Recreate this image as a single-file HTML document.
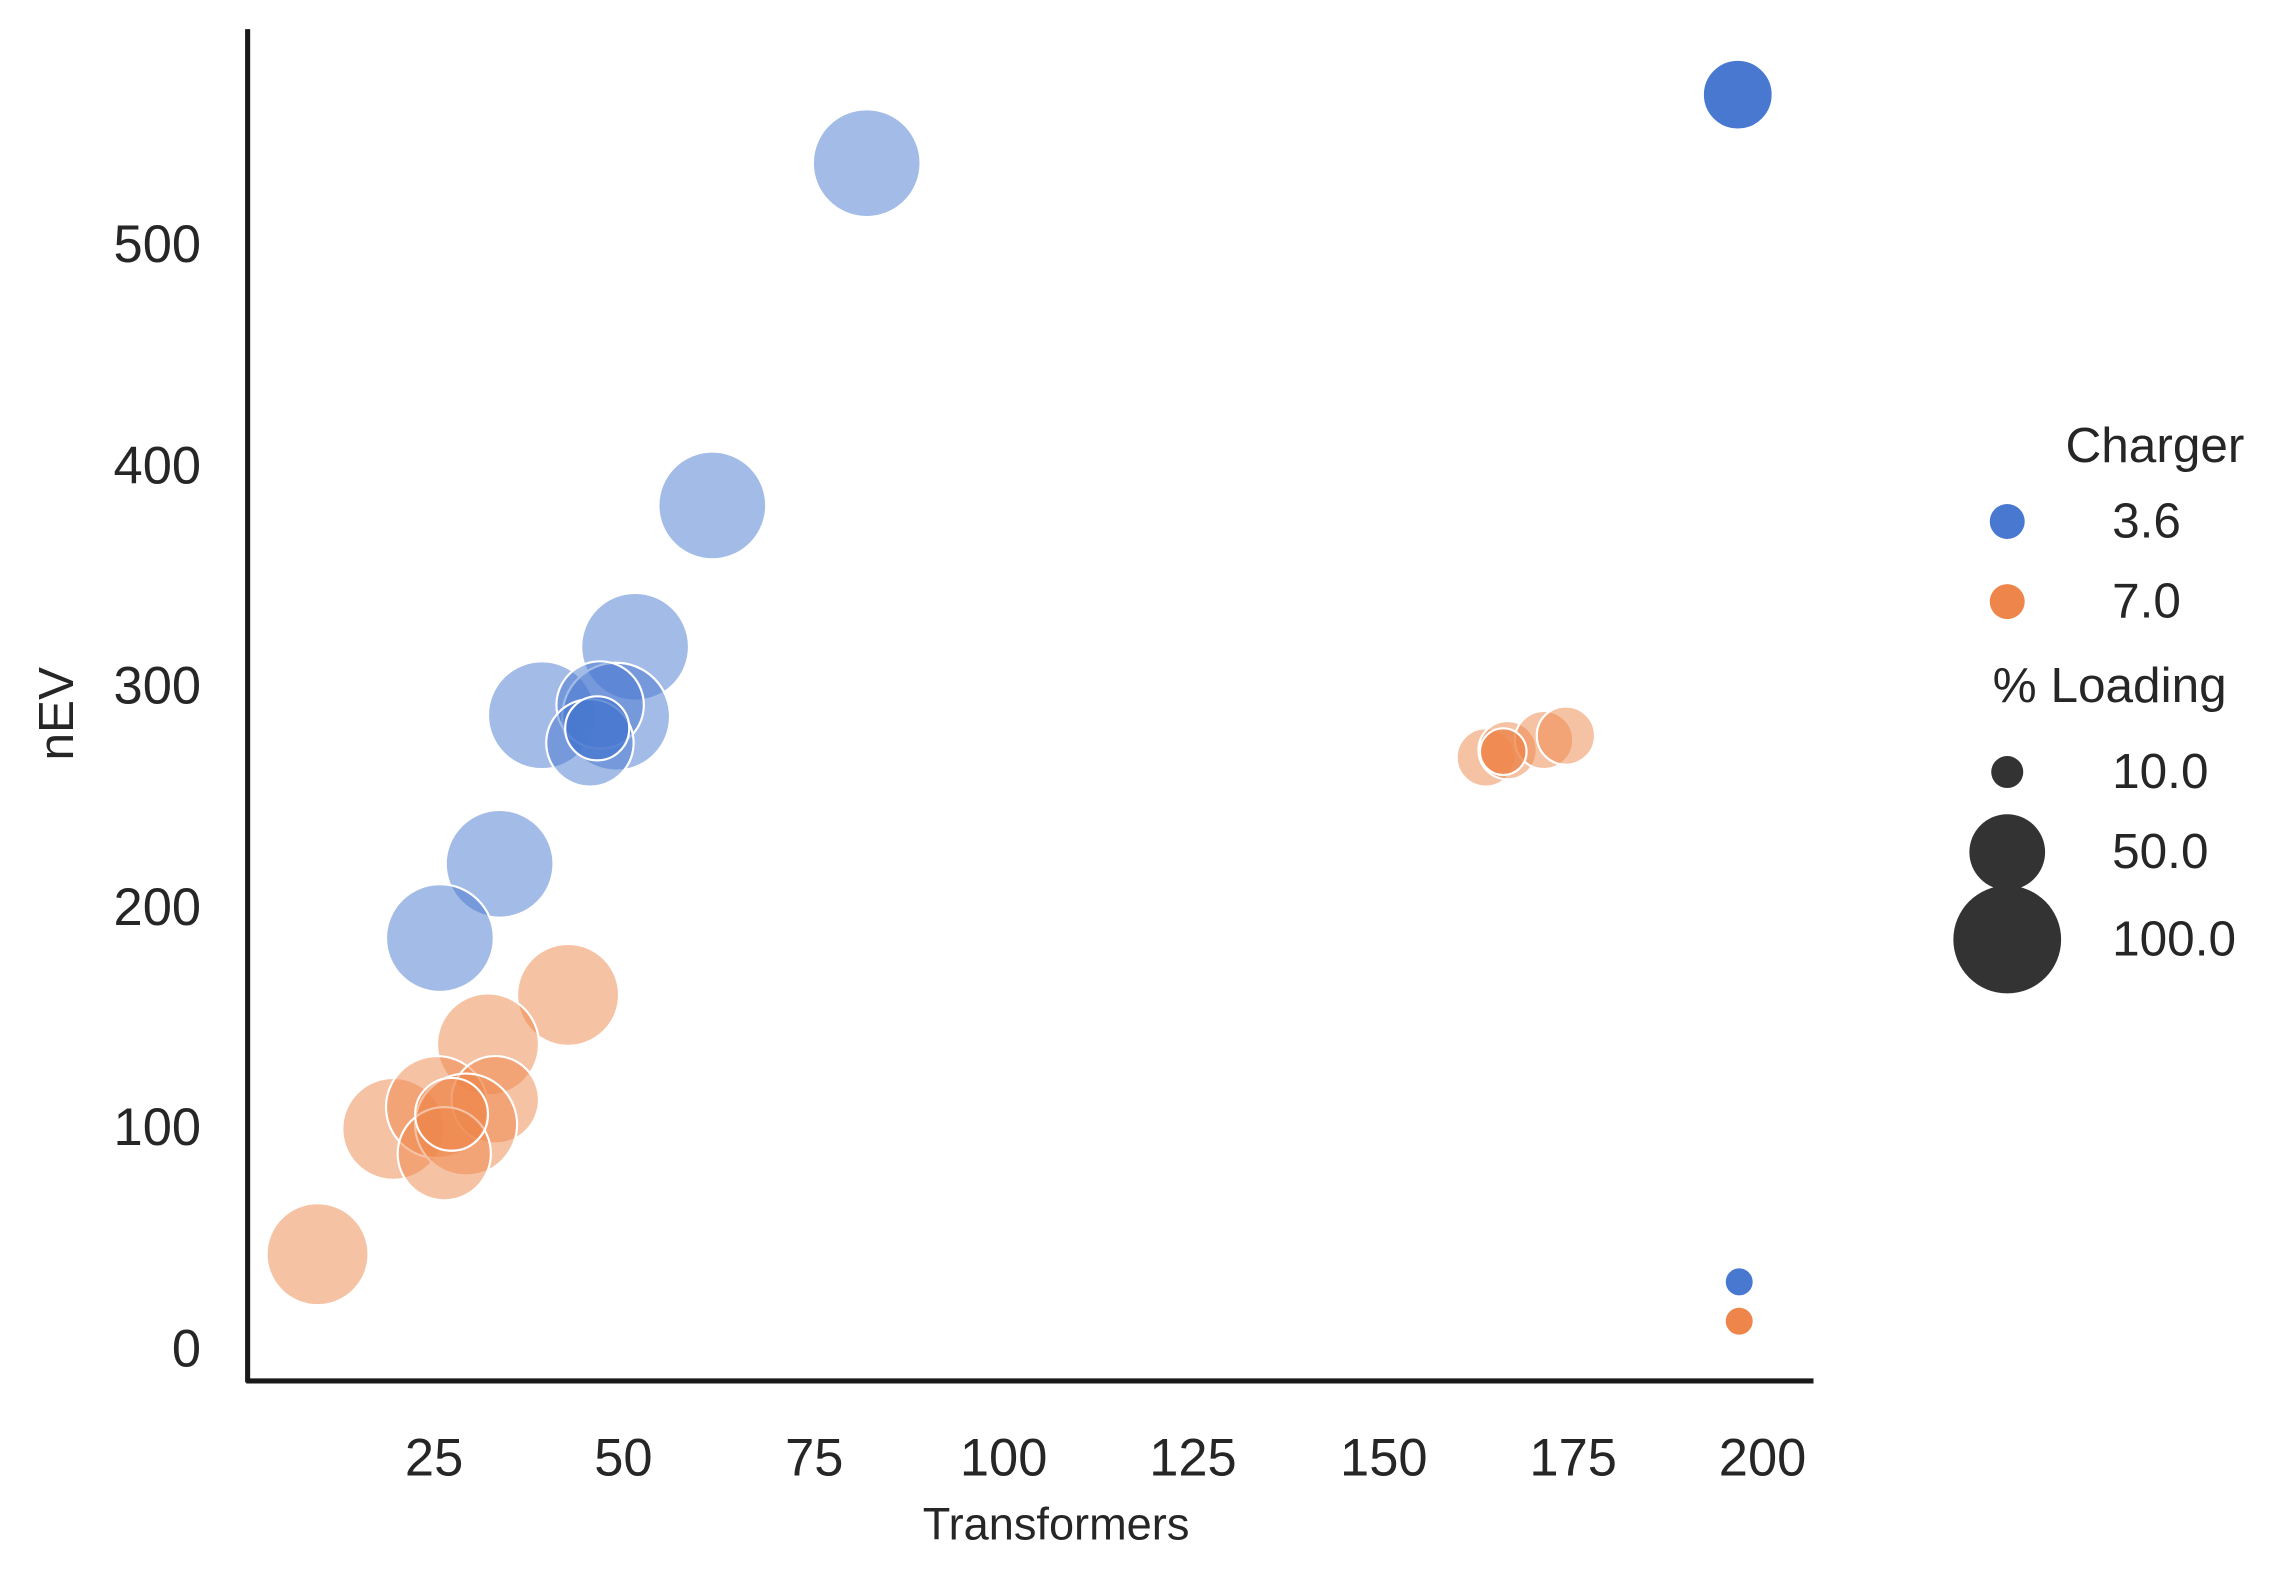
<!DOCTYPE html>
<html><head><meta charset="utf-8"><style>html,body{margin:0;padding:0;background:#fff}svg{display:block}</style></head>
<body>
<svg width="2284" height="1571" viewBox="0 0 1568 1078.5" preserveAspectRatio="none" xmlns="http://www.w3.org/2000/svg" font-family="'Liberation Sans', sans-serif" fill="#262626">
<rect width="1568" height="1078.5" fill="#fff"/>
<g stroke="#fff" stroke-width="1.5">
<g fill="#4878d0" fill-opacity="0.5">
<circle cx="595" cy="112" r="37"/>
<circle cx="489" cy="347" r="37"/>
<circle cx="436" cy="444" r="37"/>
<circle cx="372" cy="491" r="37"/>
<circle cx="423" cy="492" r="37"/>
<circle cx="412" cy="484" r="30"/>
<circle cx="405" cy="510" r="30"/>
<circle cx="343" cy="593" r="37"/>
<circle cx="302" cy="644" r="37"/>
</g>
<circle cx="410" cy="500" r="22" fill="#4878d0" fill-opacity="0.8"/>
<circle cx="1193" cy="65" r="24" fill="#4878d0"/>
<circle cx="1194" cy="880" r="10" fill="#4878d0"/>
<g fill="#ee854a" fill-opacity="0.5">
<circle cx="218" cy="861" r="35"/>
<circle cx="390" cy="683" r="35"/>
<circle cx="335" cy="717" r="35"/>
<circle cx="270" cy="775" r="35"/>
<circle cx="300" cy="760" r="35"/>
<circle cx="340" cy="755" r="30"/>
<circle cx="320" cy="772" r="35"/>
<circle cx="305" cy="792" r="32"/>
<circle cx="310" cy="765" r="25"/>
<circle cx="1020" cy="520" r="20"/>
<circle cx="1035" cy="515" r="20"/>
<circle cx="1060" cy="508" r="20"/>
<circle cx="1075" cy="505" r="20"/>
</g>
<circle cx="1032" cy="516" r="16" fill="#ee854a" fill-opacity="0.8"/>
<circle cx="1194" cy="907" r="10" fill="#ee854a"/>
</g>
<g stroke="#1a1a1a" stroke-width="3.5" fill="none">
<line x1="170" y1="20" x2="170" y2="949"/>
<line x1="169" y1="948" x2="1245" y2="948"/>
</g>
<g font-size="36" text-anchor="middle">
<text x="298" y="1013">25</text><text x="428" y="1013">50</text><text x="559" y="1013">75</text>
<text x="689" y="1013">100</text><text x="819" y="1013">125</text><text x="950" y="1013">150</text>
<text x="1080" y="1013">175</text><text x="1210" y="1013">200</text>
</g>
<g font-size="36" text-anchor="end">
<text x="138" y="938">0</text><text x="138" y="786">100</text><text x="138" y="635">200</text>
<text x="138" y="483">300</text><text x="138" y="332">400</text><text x="138" y="180">500</text>
</g>
<text x="725" y="1057" font-size="31" text-anchor="middle">Transformers</text>
<text transform="translate(50,490) rotate(-90)" font-size="34" text-anchor="middle">nEV</text>
<g font-size="34">
<text x="1418" y="317">Charger</text>
<circle cx="1378" cy="358" r="12" fill="#4878d0"/><text x="1450" y="369">3.6</text>
<circle cx="1378" cy="413" r="12" fill="#ee854a"/><text x="1450" y="424">7.0</text>
<text x="1368" y="482">% Loading</text>
<circle cx="1378" cy="530" r="11" fill="#333"/><text x="1450" y="541">10.0</text>
<circle cx="1378" cy="585" r="26" fill="#333"/><text x="1450" y="596">50.0</text>
<circle cx="1378" cy="645" r="37" fill="#333"/><text x="1450" y="656">100.0</text>
</g>
</svg>
</body></html>
